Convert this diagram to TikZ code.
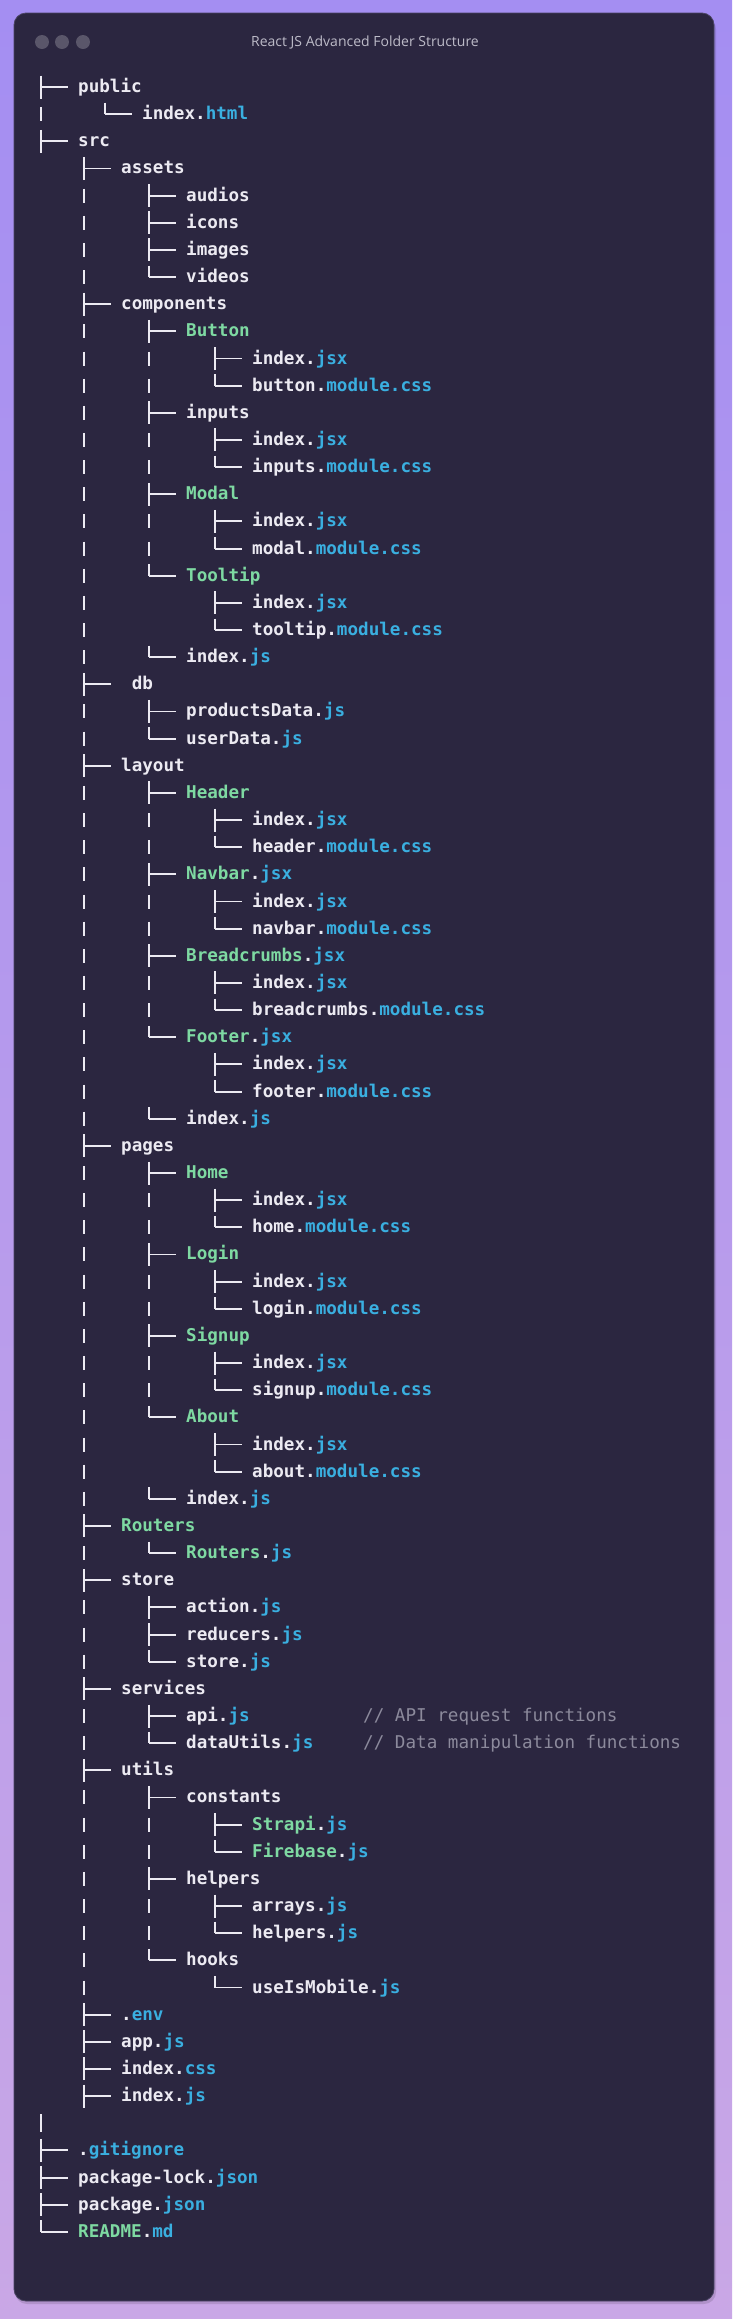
\documentclass[tikz,border=0pt]{standalone}
\usepackage{fontspec}
\setmainfont{Open Sans}
\setmonofont{DejaVu Sans Mono}
\definecolor{bgtop}{HTML}{A48EF2}
\definecolor{bgbot}{HTML}{C9A7E6}
\definecolor{win}{HTML}{2B2640}
\definecolor{winedge}{HTML}{4A4463}
\definecolor{fg}{HTML}{ECEAF2}
\definecolor{ext}{HTML}{3AAFE0}
\definecolor{grn}{HTML}{7ED9A2}
\definecolor{cmt}{HTML}{8C8A9C}
\definecolor{ttl}{HTML}{BDBBC8}
\definecolor{dot}{HTML}{5A566A}
\newcommand\ex[1]{\textcolor{ext}{#1}}
\newcommand\gr[1]{\textcolor{grn}{#1}}
\tikzset{
  tree/.style={draw=fg,line width=1.9pt},
  txt/.style={anchor=base west,inner sep=0pt,text=fg,font=\ttfamily\bfseries\fontsize{17.6}{20}\selectfont},
  cmttxt/.style={anchor=base west,inner sep=0pt,text=cmt,font=\ttfamily\fontsize{17.6}{20}\selectfont},
}
\newcommand\R[5]{%
  \pgfmathsetmacro\yy{87+(#1-1)*27.15}%
  \pgfmathsetmacro\bx{{41,84,149,215,105}[#2]}%
  \foreach \p in {#4}{\draw[tree] (\p,\yy-7)--(\p,\yy+7);}%
  \if t#3\draw[tree] (\bx,\yy-11.5)--(\bx,\yy+11.5);\else\draw[tree] (\bx,\yy-11.5)--(\bx,\yy);\fi
  \draw[tree] (\bx,\yy)--(\bx+27,\yy);
  \node[txt] (n#1) at (\bx+37,\yy+5.5) {#5};%
}
\begin{document}
\begin{tikzpicture}[x=1pt,y=-1pt]
\useasboundingbox (0,0) rectangle (732,2319);
\shade[top color=bgtop,bottom color=bgbot] (0,0) rectangle (732,2319);
\fill[black,opacity=0.12,rounded corners=12pt] (15,17) rectangle (716,2304);
\filldraw[fill=win,draw=winedge,line width=0.8pt,rounded corners=12pt] (14,13) rectangle (714,2301);
\foreach \i/\xx in {1/42,2/62,3/83}{\fill[dot] (\xx,42) circle (7) coordinate (d\i);}
\node[text=ttl,font=\fontsize{14}{16}\selectfont] (title) at (365,42) {React JS Advanced Folder Structure};
\R{1}{0}{t}{-60}{public}
\R{2}{4}{l}{41}{index.\ex{html}}
\R{3}{0}{t}{-60}{src}
\R{4}{1}{t}{-60}{assets}
\R{5}{2}{t}{84}{audios}
\R{6}{2}{t}{84}{icons}
\R{7}{2}{t}{84}{images}
\R{8}{2}{l}{84}{videos}
\R{9}{1}{t}{-60}{components}
\R{10}{2}{t}{84}{\gr{Button}}
\R{11}{3}{t}{84,149}{index.\ex{jsx}}
\R{12}{3}{l}{84,149}{button.\ex{module.css}}
\R{13}{2}{t}{84}{inputs}
\R{14}{3}{t}{84,149}{index.\ex{jsx}}
\R{15}{3}{l}{84,149}{inputs.\ex{module.css}}
\R{16}{2}{t}{84}{\gr{Modal}}
\R{17}{3}{t}{84,149}{index.\ex{jsx}}
\R{18}{3}{l}{84,149}{modal.\ex{module.css}}
\R{19}{2}{l}{84}{\gr{Tooltip}}
\R{20}{3}{t}{84}{index.\ex{jsx}}
\R{21}{3}{l}{84}{tooltip.\ex{module.css}}
\R{22}{2}{l}{84}{index.\ex{js}}
\R{23}{1}{t}{-60}{\ db}
\R{24}{2}{t}{84}{productsData.\ex{js}}
\R{25}{2}{l}{84}{userData.\ex{js}}
\R{26}{1}{t}{-60}{layout}
\R{27}{2}{t}{84}{\gr{Header}}
\R{28}{3}{t}{84,149}{index.\ex{jsx}}
\R{29}{3}{l}{84,149}{header.\ex{module.css}}
\R{30}{2}{t}{84}{\gr{Navbar}.\ex{jsx}}
\R{31}{3}{t}{84,149}{index.\ex{jsx}}
\R{32}{3}{l}{84,149}{navbar.\ex{module.css}}
\R{33}{2}{t}{84}{\gr{Breadcrumbs}.\ex{jsx}}
\R{34}{3}{t}{84,149}{index.\ex{jsx}}
\R{35}{3}{l}{84,149}{breadcrumbs.\ex{module.css}}
\R{36}{2}{l}{84}{\gr{Footer}.\ex{jsx}}
\R{37}{3}{t}{84}{index.\ex{jsx}}
\R{38}{3}{l}{84}{footer.\ex{module.css}}
\R{39}{2}{l}{84}{index.\ex{js}}
\R{40}{1}{t}{-60}{pages}
\R{41}{2}{t}{84}{\gr{Home}}
\R{42}{3}{t}{84,149}{index.\ex{jsx}}
\R{43}{3}{l}{84,149}{home.\ex{module.css}}
\R{44}{2}{t}{84}{\gr{Login}}
\R{45}{3}{t}{84,149}{index.\ex{jsx}}
\R{46}{3}{l}{84,149}{login.\ex{module.css}}
\R{47}{2}{t}{84}{\gr{Signup}}
\R{48}{3}{t}{84,149}{index.\ex{jsx}}
\R{49}{3}{l}{84,149}{signup.\ex{module.css}}
\R{50}{2}{l}{84}{\gr{About}}
\R{51}{3}{t}{84}{index.\ex{jsx}}
\R{52}{3}{l}{84}{about.\ex{module.css}}
\R{53}{2}{l}{84}{index.\ex{js}}
\R{54}{1}{t}{-60}{\gr{Routers}}
\R{55}{2}{l}{84}{\gr{Routers}.\ex{js}}
\R{56}{1}{t}{-60}{store}
\R{57}{2}{t}{84}{action.\ex{js}}
\R{58}{2}{t}{84}{reducers.\ex{js}}
\R{59}{2}{l}{84}{store.\ex{js}}
\R{60}{1}{t}{-60}{services}
\R{61}{2}{t}{84}{api.\ex{js}}
\R{62}{2}{l}{84}{dataUtils.\ex{js}}
\R{63}{1}{t}{-60}{utils}
\R{64}{2}{t}{84}{constants}
\R{65}{3}{t}{84,149}{\gr{Strapi}.\ex{js}}
\R{66}{3}{l}{84,149}{\gr{Firebase}.\ex{js}}
\R{67}{2}{t}{84}{helpers}
\R{68}{3}{t}{84,149}{arrays.\ex{js}}
\R{69}{3}{l}{84,149}{helpers.\ex{js}}
\R{70}{2}{l}{84}{hooks}
\R{71}{3}{l}{84}{useIsMobile.\ex{js}}
\R{72}{1}{t}{-60}{.\ex{env}}
\R{73}{1}{t}{-60}{app.\ex{js}}
\R{74}{1}{t}{-60}{index.\ex{css}}
\R{75}{1}{t}{-60}{index.\ex{js}}
\pgfmathsetmacro\yy{87+75*27.15}
\draw[tree] (41,\yy-9)--(41,\yy+9);
\R{77}{0}{t}{-60}{.\ex{gitignore}}
\R{78}{0}{t}{-60}{package-lock.\ex{json}}
\R{79}{0}{t}{-60}{package.\ex{json}}
\R{80}{0}{l}{-60}{\gr{README}.\ex{md}}
\node[cmttxt] (c61) at (363,87+60*27.15+5.5) {// API request functions};
\node[cmttxt] (c62) at (363,87+61*27.15+5.5) {// Data manipulation functions};
\end{tikzpicture}
\end{document}
